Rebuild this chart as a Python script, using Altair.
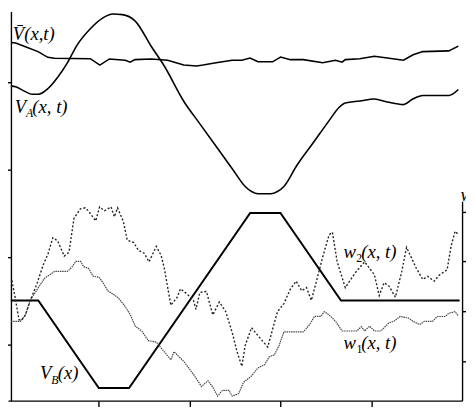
import altair as alt
import pandas as pd

# ---------------- data ----------------
# shared horizontal coordinate (ticks at 1..4)
vbar_x = [0.032, 0.085, 0.192, 0.331, 0.438, 0.512, 0.907, 1.011, 1.117, 1.291, 1.345, 1.398,
          1.580, 1.758, 1.935, 2.078, 2.148, 2.291, 2.469, 2.575, 2.665, 2.753, 2.913, 3.002,
          3.109, 3.252, 3.465, 3.607, 3.679, 3.714, 3.874, 4.034, 4.176, 4.354, 4.461, 4.568,
          4.853, 4.959]
vbar_y = [4.449, 4.445, 4.401, 4.346, 4.280, 4.269, 4.265, 4.192, 4.262, 4.247, 4.225, 4.254,
          4.262, 4.247, 4.192, 4.181, 4.192, 4.218, 4.247, 4.247, 4.273, 4.229, 4.229, 4.284,
          4.254, 4.254, 4.218, 4.247, 4.225, 4.254, 4.265, 4.293, 4.273, 4.247, 4.309, 4.346,
          4.354, 4.409]

va_x = [0.032, 0.085, 0.192, 0.264, 0.334, 0.441, 0.547, 0.654, 0.761, 0.904, 1.046, 1.153,
        1.259, 1.401, 1.580, 1.721, 1.935, 2.113, 2.291, 2.469, 2.612, 2.682, 2.753, 2.895,
        2.967, 3.038, 3.180, 3.359, 3.536, 3.642, 3.714, 3.874, 4.034, 4.176, 4.354, 4.461,
        4.568, 4.853, 4.959]
va_y = [3.954, 3.943, 3.888, 3.858, 3.858, 3.924, 4.053, 4.218, 4.420, 4.604, 4.731, 4.775,
        4.769, 4.695, 4.401, 4.181, 3.778, 3.520, 3.263, 3.007, 2.804, 2.746, 2.720, 2.720,
        2.746, 2.804, 3.043, 3.300, 3.557, 3.704, 3.759, 3.781, 3.803, 3.770, 3.740, 3.806,
        3.844, 3.844, 3.913]

vb_x = [0.032, 1 / 3, 1.0, 4 / 3, 8 / 3, 3.0, 11 / 3, 4.973]
vb_y = [1.5, 1.5, 0.5, 0.5, 2.5, 2.5, 1.5, 1.5]

w2_x = [0.043, 0.078, 0.121, 0.149, 0.192, 0.245, 0.317, 0.387, 0.441, 0.494,
        0.547, 0.619, 0.672, 0.726, 0.797, 0.851, 0.886, 0.966, 1.009, 1.062,
        1.134, 1.171, 1.206, 1.270, 1.313, 1.384, 1.438, 1.499, 1.553, 1.633,
        1.686, 1.721, 1.793, 1.864, 1.900, 1.971, 2.042, 2.070, 2.113, 2.185,
        2.255, 2.327, 2.398, 2.469, 2.522, 2.575, 2.612, 2.682, 2.753, 2.860,
        2.967, 3.038, 3.109, 3.173, 3.234, 3.287, 3.340, 3.394, 3.465, 3.536,
        3.572, 3.625, 3.714, 3.821, 3.927, 4.034, 4.088, 4.141, 4.194, 4.266,
        4.336, 4.389, 4.496, 4.568, 4.621, 4.693, 4.746, 4.835, 4.880, 4.923,
        4.959]
w2_y = [2.619, 2.282, 1.832, 1.818, 1.928, 2.219, 2.542, 2.928, 3.153, 3.476,
        3.412, 3.108, 3.186, 3.863, 4.056, 4.075, 4.012, 3.814, 4.095, 4.017,
        4.095, 3.896, 4.075, 3.805, 3.427, 3.379, 3.219, 3.166, 2.992, 3.302,
        3.122, 2.863, 2.122, 2.282, 2.451, 2.348, 2.219, 2.039, 2.379, 2.398,
        1.928, 2.186, 1.992, 1.574, 1.188, 0.897, 1.315, 1.671, 1.509, 1.284,
        1.992, 2.155, 2.445, 2.605, 2.412, 2.476, 2.219, 2.586, 3.089, 3.534,
        3.586, 2.992, 2.476, 2.766, 2.992, 2.735, 2.315, 2.573, 2.509, 2.282,
        2.799, 3.282, 2.863, 2.638, 2.702, 2.605, 2.721, 2.832, 3.315, 3.605,
        3.540]

w1_x = [0.032, 0.139, 0.192, 0.245, 0.334, 0.406, 0.512, 0.654, 0.708, 0.747,
        0.800, 0.832, 0.886, 0.939, 1.003, 1.046, 1.099, 1.153, 1.206, 1.281,
        1.348, 1.401, 1.473, 1.544, 1.633, 1.721, 1.793, 1.828, 1.935, 2.042,
        2.131, 2.202, 2.255, 2.308, 2.362, 2.433, 2.469, 2.540, 2.593, 2.682,
        2.753, 2.825, 2.878, 2.932, 2.985, 3.038, 3.252, 3.322, 3.376, 3.447,
        3.482, 3.536, 3.607, 3.679, 3.839, 3.892, 3.927, 3.981, 4.034, 4.106,
        4.194, 4.248, 4.319, 4.408, 4.461, 4.532, 4.586, 4.674, 4.728, 4.816,
        4.853, 4.923, 4.959]
w1_y = [1.799, 1.799, 1.928, 2.219, 2.476, 2.669, 2.799, 2.799, 2.896, 3.002,
        3.002, 2.896, 2.863, 2.702, 2.683, 2.573, 2.412, 2.348, 2.282, 2.122,
        1.928, 1.702, 1.605, 1.412, 1.381, 1.188, 1.025, 1.188, 0.994, 0.735,
        0.491, 0.607, 0.478, 0.298, 0.414, 0.414, 0.298, 0.348, 0.574, 0.704,
        0.865, 0.928, 1.091, 1.122, 1.315, 1.586, 1.586, 1.735, 1.899, 1.899,
        1.992, 1.928, 1.799, 1.605, 1.605, 1.691, 1.605, 1.702, 1.605, 1.605,
        1.768, 1.799, 1.896, 1.865, 1.799, 1.735, 1.799, 1.799, 1.896, 1.896,
        1.961, 1.992, 1.909]

x_ticks = [1, 2, 3, 4]
left_ticks = [1, 2, 3, 4]
right_ticks = [1, 2, 3, 4]

# label texts and anchor points (left-scale units)
main_text = ["V\u0304(x,t)", "V", "(x, t)", "V", "(x)", "w", "(x, t)", "w", "(x, t)"]
main_u = [0.053, 0.075, 0.268, 0.352, 0.548, 3.693, 3.890, 3.693, 3.890]
main_v = [4.475, 3.649, 3.649, 0.598, 0.598, 1.986, 1.986, 0.945, 0.945]
sub_text = ["A", "B"]
sub_u = [0.199, 0.476]
sub_v = [3.600, 0.550]
digit_text = ["2", "1"]
digit_u = [3.836, 3.838]
digit_v = [1.942, 0.905]

# ---------------- chart ----------------
W, H = 462, 396
FONT = "Liberation Serif"

x_axis = alt.Axis(values=x_ticks, labels=False, title=None, grid=False, orient="bottom",
                  tickSize=6, tickWidth=1.4, domainWidth=1.4,
                  domainColor="black", tickColor="black")
x_enc = alt.X("u:Q", scale=alt.Scale(domain=[0, 5], nice=False, zero=False), axis=x_axis)

left_axis = alt.Axis(values=left_ticks, labels=False, title=None, grid=False, orient="left",
                     tickSize=6, tickWidth=1.4, domainWidth=1.4, offset=-3,
                     domainColor="black", tickColor="black")
yl = alt.Y("v:Q", scale=alt.Scale(domain=[0.355, 4.805], nice=False, zero=False), axis=left_axis)

right_axis = alt.Axis(values=right_ticks, labels=False, grid=False, orient="right",
                      tickSize=4, tickWidth=1.4, domainWidth=1.4,
                      domainColor="black", tickColor="black",
                      title="w", titleAngle=0, titleFont=FONT, titleFontStyle="italic",
                      titleFontWeight="normal", titleFontSize=19, titleColor="black",
                      titleAlign="left", titleBaseline="alphabetic", titleX=-2, titleY=192)
yr = alt.Y("r:Q", scale=alt.Scale(domain=[0.207, 4.21], range=[H, 193], nice=False, zero=False),
           axis=right_axis)

vbar_df = pd.DataFrame({"u": vbar_x, "v": vbar_y})
va_df = pd.DataFrame({"u": va_x, "v": va_y})
vb_df = pd.DataFrame({"u": vb_x, "v": vb_y})
w2_df = pd.DataFrame({"u": w2_x, "r": w2_y})
w1_df = pd.DataFrame({"u": w1_x, "r": w1_y})
main_df = pd.DataFrame({"u": main_u, "v": main_v, "t": main_text})
sub_df = pd.DataFrame({"u": sub_u, "v": sub_v, "t": sub_text})
digit_df = pd.DataFrame({"u": digit_u, "v": digit_v, "t": digit_text})

vbar_line = alt.Chart(vbar_df).mark_line(color="black", strokeWidth=1.6).encode(x=x_enc, y=yl)
va_line = alt.Chart(va_df).mark_line(color="black", strokeWidth=1.6, interpolate="monotone").encode(x=x_enc, y=yl)
vb_line = alt.Chart(vb_df).mark_line(color="black", strokeWidth=2).encode(x=x_enc, y=yl)

main_lbl = alt.Chart(main_df).mark_text(font=FONT, fontSize=19, fontStyle="italic", color="black",
                                        align="left", baseline="alphabetic").encode(x=x_enc, y=yl, text="t:N")
sub_lbl = alt.Chart(sub_df).mark_text(font=FONT, fontSize=12, fontStyle="italic", color="black",
                                      align="left", baseline="alphabetic").encode(x=x_enc, y=yl, text="t:N")
digit_lbl = alt.Chart(digit_df).mark_text(font=FONT, fontSize=12, color="black",
                                          align="left", baseline="alphabetic").encode(x=x_enc, y=yl, text="t:N")

left = alt.layer(vbar_line, va_line, vb_line, main_lbl, sub_lbl, digit_lbl)

w1_line = alt.Chart(w1_df).mark_line(color="#444444", strokeWidth=1.2, strokeDash=[1.5, 0.8]).encode(x=x_enc, y=yr)
w2_line = alt.Chart(w2_df).mark_line(color="#222222", strokeWidth=1.4, strokeDash=[2, 2]).encode(x=x_enc, y=yr)
right = alt.layer(w1_line, w2_line)

chart = alt.layer(left, right).resolve_scale(y="independent").properties(
    width=W, height=H,
    autosize=alt.AutoSizeParams(type="none"),
    padding={"left": 0, "top": 0, "right": 4, "bottom": 6},
).configure_view(stroke=None)

chart.save("out.html", embed_options={"renderer": "svg", "actions": False})
